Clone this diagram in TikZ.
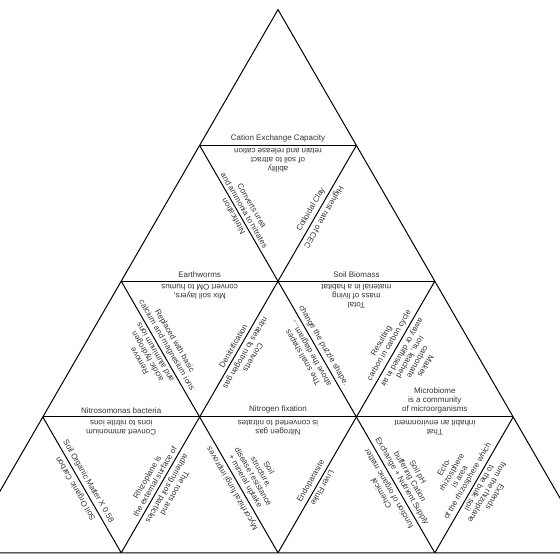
\documentclass[tikz,border=0pt]{standalone}
\usepackage{fontspec}
\setmainfont{Liberation Sans}
\usepackage{tikz}

\begin{document}
\begin{tikzpicture}[
		x=1pt, y=1pt,
		cut/.style={line width=1pt, line join=round},
		clue/.style={
			midway,
			sloped,
			allow upside down,
			anchor=south,
			align=center,
			inner xsep=1pt,
			inner ysep=3.2pt,
			text=black!80,
			font=\fontsize{8}{9}\selectfont
		}
		]
		
		\useasboundingbox (0,0) rectangle (560,560);
		\clip (0,0) rectangle (560,560);
		
		\foreach \r in {0,...,4}{
			\foreach \k in {0,...,\r}{
				\coordinate (v\r\k) at ({278+(\k-\r/2)*156.8}, {550.4-\r*135.8});
			}
		}
		
		\draw[cut] (v00) -- (v40) -- (v44) -- cycle;
		\foreach \r/\m in {1/3, 2/2, 3/1}{
			\draw[cut] (v\r0) -- (v\r\r);
			\draw[cut] (v\r0) -- (v4\m);
			\draw[cut] (v\r\r) -- (v4\r);
		}
		
		% row 1 / 2
		\path (v10) -- node[clue] {Cation Exchange Capacity} (v11);
		\path (v11) -- node[clue] {ability\\of soil to attract\\retain and release cation} (v10);
		\path (v21) -- node[clue] {Nitrification} (v10);
		\path (v10) -- node[clue] {Converts urea\\and ammonia to nitrates} (v21);
		\path (v21) -- node[clue] {Colloidal Clay} (v11);
		\path (v11) -- node[clue] {Highest rate of CEC} (v21);
		
		% row 2 / 3
		\path (v20) -- node[clue] {Earthworms} (v21);
		\path (v21) -- node[clue] {Mix soil layers,\\convert OM to humus} (v20);
		\path (v21) -- node[clue] {Soil Biomass} (v22);
		\path (v22) -- node[clue] {Total\\mass of living\\material in a habitat} (v21);
		\path (v31) -- node[clue] {Remove\\acidic hydrogen\\and aluminum ions} (v20);
		\path (v20) -- node[clue] {Replaced with basic\\calcium and magnesium ions} (v31);
		\path (v31) -- node[clue] {Denitrification} (v21);
		\path (v21) -- node[clue] {Converts\\nitrates to nitrogen gas} (v31);
		\path (v32) -- node[clue] {The small shapes\\above the diagram....} (v21);
		\path (v21) -- node[clue] {change the puzzle shape.} (v32);
		\path (v32) -- node[clue] {Resulting\\carbon in carbon cycle} (v22);
		\path (v22) -- node[clue] {Makes\\carbonate\\ions, leached\\away or diffused in air} (v32);
		
		% row 3 / 4
		\path (v30) -- node[clue] {Nitrosomonas bacteria} (v31);
		\path (v31) -- node[clue] {Convert ammonium\\ions to nitrite ions} (v30);
		\path (v31) -- node[clue] {Nitrogen fixation} (v32);
		\path (v32) -- node[clue] {Nitrogen gas\\is converted to nitrates} (v31);
		\path (v32) -- node[clue] {Microbiome\\is a community\\of microorganisms} (v33);
		\path (v33) -- node[clue] {That\\inhabit an environment} (v32);
		\path (v41) -- node[clue] {Soil Organic Carbon} (v30);
		\path (v30) -- node[clue] {Soil Organic Matter X 0.58} (v41);
		\path (v41) -- node[clue] {Rhizoplane is\\the external surface of} (v31);
		\path (v31) -- node[clue] {The roots and\\adhering soil particles} (v41);
		\path (v42) -- node[clue] {Mycorrhizal fungi improves} (v31);
		\path (v31) -- node[clue] {Soil\\structure,\\disease resistance\\+ mineral uptake} (v42);
		\path (v42) -- node[clue] {Endoparasite} (v32);
		\path (v32) -- node[clue] {Liver Fluke} (v42);
		\path (v43) -- node[clue] {Chemical\\function of organic matter} (v32);
		\path (v32) -- node[clue] {Soil pH\\buffering Cation\\Exchange + Nutrient Supply} (v43);
		\path (v43) -- node[clue] {Ecto-\\rhizosphere\\is area\\of the rhizosphere which} (v33);
		\path (v33) -- node[clue] {Extends\\from the rhizoplane\\to the bulk soil} (v43);
		
	\end{tikzpicture}
\end{document}
